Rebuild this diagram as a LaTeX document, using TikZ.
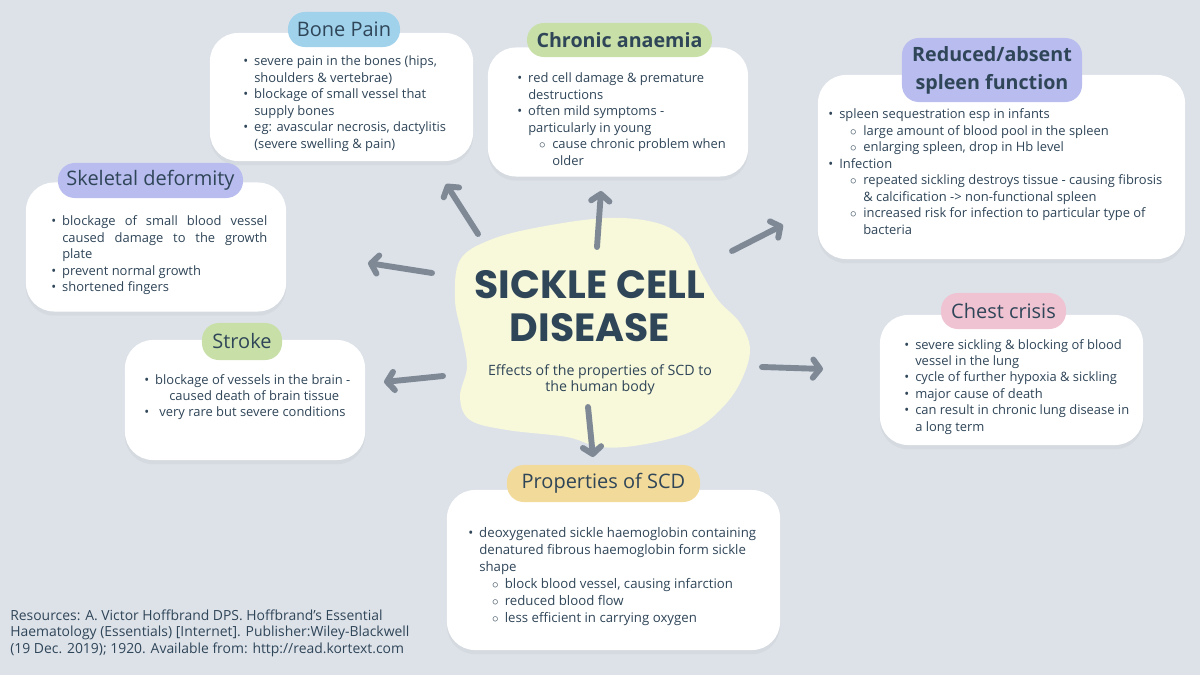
\documentclass[tikz,border=0pt]{standalone}
\usepackage{fontspec}
\setmainfont{Open Sans}
\newfontfamily\titlefont{Poppins}
\usetikzlibrary{positioning}
\usetikzlibrary{arrows.meta}
\usetikzlibrary{shadows}

\definecolor{bgcol}{HTML}{DDE2E9}
\definecolor{ink}{HTML}{2F4558}
\definecolor{raycol}{HTML}{7E8995}
\definecolor{blobcol}{HTML}{F8F9DA}
\definecolor{tagblue}{HTML}{A1D2EC}
\definecolor{taggreen}{HTML}{C8E0A8}
\definecolor{tagpurple}{HTML}{B8BCEE}
\definecolor{tagpink}{HTML}{EFC3D2}
\definecolor{tagyellow}{HTML}{F2DA9A}

\newcommand{\itm}{\makebox[7.8pt][l]{\textbullet}}
\newcommand{\itc}{\hspace{7.8pt}}
\newcommand{\sbi}{\hspace{15.6pt}\makebox[9.3pt][l]{$\circ$}}
\newcommand{\sbc}{\hspace{24.9pt}}
\newcommand{\jline}[1]{\makebox[145.8pt][s]{#1}}

\begin{document}
\begin{tikzpicture}[x=0.025cm, y=-0.025cm,
    card/.style={fill=white, rounded corners=0.7cm, inner sep=0pt,
      drop shadow={opacity=0.08, shadow xshift=0pt, shadow yshift=-3pt}},
    tag/.style={rounded corners=0.42cm, inner sep=0pt, text=ink, font=\fontsize{14.2}{20}\selectfont},
    boldtag/.style={tag, font=\fontsize{14}{20}\selectfont\bfseries},
    body/.style={inner sep=0pt, anchor=base west, text=ink, font=\fontsize{9.2}{11.7}\selectfont},
    bigbody/.style={body, font=\fontsize{9.4}{12.2}\selectfont},
    ray/.style={draw=raycol, line width=4.2pt, line cap=round,
      -{Straight Barb[round, length=5pt, width=13pt]}}]
  \useasboundingbox (0,0) rectangle (1200,675);
  \fill[bgcol] (0,0) rectangle (1200,675);

  \fill[blobcol] plot[smooth cycle, tension=0.6] coordinates {
    (460,260) (490,240) (540,227) (607,218) (657,223) (685,240) (700,270)
    (718,300) (740,323) (750,350) (740,383) (720,410) (690,432) (640,445)
    (600,447) (567,437) (507,430) (470,420) (460,397) (467,367) (462,335) (455,300)};

  \node[card, minimum width=6.575cm, minimum height=3.2cm] (bonecard) at (341.5,97) {};
  \node[card, minimum width=6.5cm, minimum height=3.225cm] (anaemiacard) at (618,112) {};
  \node[card, minimum width=9.175cm, minimum height=4.6cm] (spleencard) at (1001.5,167) {};
  \node[card, minimum width=6.5cm, minimum height=3.225cm] (skelcard) at (156,247) {};
  \node[card, minimum width=6.0cm, minimum height=3.0cm] (strokecard) at (245,400) {};
  \node[card, minimum width=6.575cm, minimum height=3.25cm] (chestcard) at (1011.5,380) {};
  \node[card, minimum width=8.325cm, minimum height=4.0cm] (propscard) at (613.5,570) {};

  \node[tag, fill=tagblue, minimum width=2.8cm, minimum height=0.875cm] (bonetag) at (344,29.5) {Bone Pain};
  \node[boldtag, fill=taggreen, minimum width=4.625cm, minimum height=0.85cm] (anaemiatag) at (619.5,40) {Chronic anaemia};
  \node[boldtag, fill=tagpurple, minimum width=4.5cm, minimum height=1.6cm, align=center] (spleentag) at (992,70) {Reduced/absent\\spleen function};
  \node[tag, fill=tagpurple, minimum width=4.625cm, minimum height=0.875cm] (skeltag) at (150.5,180.5) {Skeletal deformity};
  \node[tag, fill=taggreen, minimum width=2.0cm, minimum height=0.925cm] (stroketag) at (242,341.5) {Stroke};
  \node[tag, fill=tagpink, minimum width=3.125cm, minimum height=0.9cm] (chesttag) at (1003.5,311) {Chest crisis};
  \node[tag, fill=tagyellow, minimum width=4.825cm, minimum height=0.925cm] (propstag) at (603.5,483.5) {Properties of SCD};

  \node[body] (bonetext) at (243,66) {\begin{tabular}[t]{@{}l@{}}
    \itm severe pain in the bones (hips,\\
    \itc shoulders \& vertebrae)\\
    \itm blockage of small vessel that\\
    \itc supply bones\\
    \itm eg: avascular necrosis, dactylitis\\
    \itc (severe swelling \& pain)
  \end{tabular}};
  \node[body] (anaemiatext) at (517,83) {\begin{tabular}[t]{@{}l@{}}
    \itm red cell damage \& premature\\
    \itc destructions\\
    \itm often mild symptoms -\\
    \itc particularly in young\\
    \sbi cause chronic problem when\\
    \sbc older
  \end{tabular}};
  \node[body] (spleentext) at (828,119) {\begin{tabular}[t]{@{}l@{}}
    \itm spleen sequestration esp in infants\\
    \sbi large amount of blood pool in the spleen\\
    \sbi enlarging spleen, drop in Hb level\\
    \itm Infection\\
    \sbi repeated sickling destroys tissue - causing fibrosis\\
    \sbc \& calcification -> non-functional spleen\\
    \sbi increased risk for infection to particular type of\\
    \sbc bacteria
  \end{tabular}};
  \node[body] (skeltext) at (51,226) {\begin{tabular}[t]{@{}l@{}}
    \itm \jline{blockage of small blood vessel}\\
    \itc \jline{caused damage to the growth}\\
    \itc plate\\
    \itm prevent normal growth\\
    \itm shortened fingers
  \end{tabular}};
  \node[body] (stroketext) at (144,384) {\begin{tabular}[t]{@{}l@{}}
    \itm blockage of vessels in the brain -\\
    \itc\hspace{10pt}caused death of brain tissue\\
    \itm\hspace{3pt}very rare but severe conditions
  \end{tabular}};
  \node[body] (chesttext) at (904,349) {\begin{tabular}[t]{@{}l@{}}
    \itm severe sickling \& blocking of blood\\
    \itc vessel in the lung\\
    \itm cycle of further hypoxia \& sickling\\
    \itm major cause of death\\
    \itm can result in chronic lung disease in\\
    \itc a long term
  \end{tabular}};
  \node[bigbody] (propstext) at (468,537) {\begin{tabular}[t]{@{}l@{}}
    \itm deoxygenated sickle haemoglobin containing\\
    \itc denatured fibrous haemoglobin form sickle\\
    \itc shape\\
    \hspace{17pt}\makebox[9pt][l]{$\circ$}block blood vessel, causing infarction\\
    \hspace{17pt}\makebox[9pt][l]{$\circ$}reduced blood flow\\
    \hspace{17pt}\makebox[9pt][l]{$\circ$}less efficient in carrying oxygen
  \end{tabular}};

  \node[text=ink, align=center, inner sep=0pt, font=\titlefont\bfseries\fontsize{28}{30.6}\selectfont] (scd) at (590,306) {SICKLE CELL\\DISEASE};
  \node[text=ink, align=center, inner sep=0pt, font=\fontsize{10.1}{11.7}\selectfont] (effects) at (600,380) {Effects of the properties of SCD to\\the human body};

  \node[bigbody, font=\fontsize{9.9}{11.75}\selectfont] (resources) at (10,620) {\begin{tabular}[t]{@{}l@{}}
    Resources: A. Victor Hoffbrand DPS. Hoffbrand’s Essential\\
    Haematology (Essentials) [Internet]. Publisher:Wiley-Blackwell\\
    (19 Dec. 2019); 1920. Available from: http://read.kortext.com
  \end{tabular}};

  \coordinate (bonetail) at (478,234);
  \coordinate (bonetip) at (446,184);
  \coordinate (anaemiatail) at (597,247);
  \coordinate (anaemiatip) at (601,191);
  \coordinate (spleentail) at (732,251);
  \coordinate (spleentip) at (783,225);
  \coordinate (skeltail) at (432,273);
  \coordinate (skeltip) at (368,263);
  \coordinate (stroketail) at (443,376);
  \coordinate (stroketip) at (384,382);
  \coordinate (chesttail) at (762,367);
  \coordinate (chesttip) at (823,369);
  \coordinate (propstail) at (588,407);
  \coordinate (propstip) at (593,457);

  \draw[ray] (bonetail) -- (bonetip);
  \draw[ray] (anaemiatail) -- (anaemiatip);
  \draw[ray] (spleentail) -- (spleentip);
  \draw[ray] (skeltail) -- (skeltip);
  \draw[ray] (stroketail) -- (stroketip);
  \draw[ray] (chesttail) -- (chesttip);
  \draw[ray] (propstail) -- (propstip);
\end{tikzpicture}
\end{document}
